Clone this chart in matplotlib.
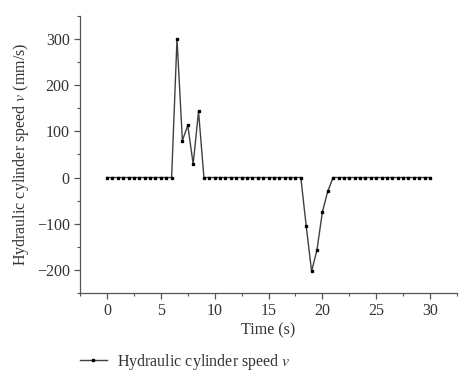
import matplotlib
matplotlib.use("Agg")
import matplotlib.pyplot as plt
from matplotlib.ticker import MultipleLocator

# time (s) sampled every 0.5 s, speed v (mm/s)
time_s = [i * 0.5 for i in range(61)]
speed = ([0] * 13
         + [300, 80, 113, 29, 143]
         + [0] * 19
         + [-105, -203, -157, -75, -30]
         + [0] * 19)

plt.rcParams['font.family'] = ['Liberation Serif', 'DejaVu Serif']
plt.rcParams['mathtext.fontset'] = 'stix'
plt.rcParams['font.size'] = 11.5

txt = '#333333'
axc = '#555555'

fig = plt.figure(figsize=(4.74, 3.87), dpi=100)
ax = fig.add_axes([0.169, 0.243, 0.795, 0.716])

ax.plot(time_s, speed, color='#404040', lw=1.0, marker='s', ms=1.7,
        mfc='black', mec='black', label='Hydraulic cylinder speed $v$')

ax.set_xlim(-2.5, 32.5)
ax.set_ylim(-250, 350)
ax.xaxis.set_major_locator(MultipleLocator(5))
ax.xaxis.set_minor_locator(MultipleLocator(2.5))
ax.yaxis.set_major_locator(MultipleLocator(100))
ax.yaxis.set_minor_locator(MultipleLocator(50))

for s in ['top', 'right']:
    ax.spines[s].set_visible(False)
for s in ['left', 'bottom']:
    ax.spines[s].set_color(axc)
    ax.spines[s].set_linewidth(0.9)
ax.tick_params(which='major', direction='out', length=4, width=0.9,
               color=axc, labelcolor=txt)
ax.tick_params(which='minor', direction='out', length=2.5, width=0.8, color=axc)

ax.set_xlabel('Time (s)', color=txt, labelpad=2)
ax.set_ylabel('Hydraulic cylinder speed $v$ (mm/s)', color=txt, labelpad=4)

fig.legend(loc='center left', bbox_to_anchor=(0.138, 0.065), frameon=False,
           handlelength=1.7, handletextpad=0.6, labelcolor=txt)

fig.savefig('out.png', dpi=100)
